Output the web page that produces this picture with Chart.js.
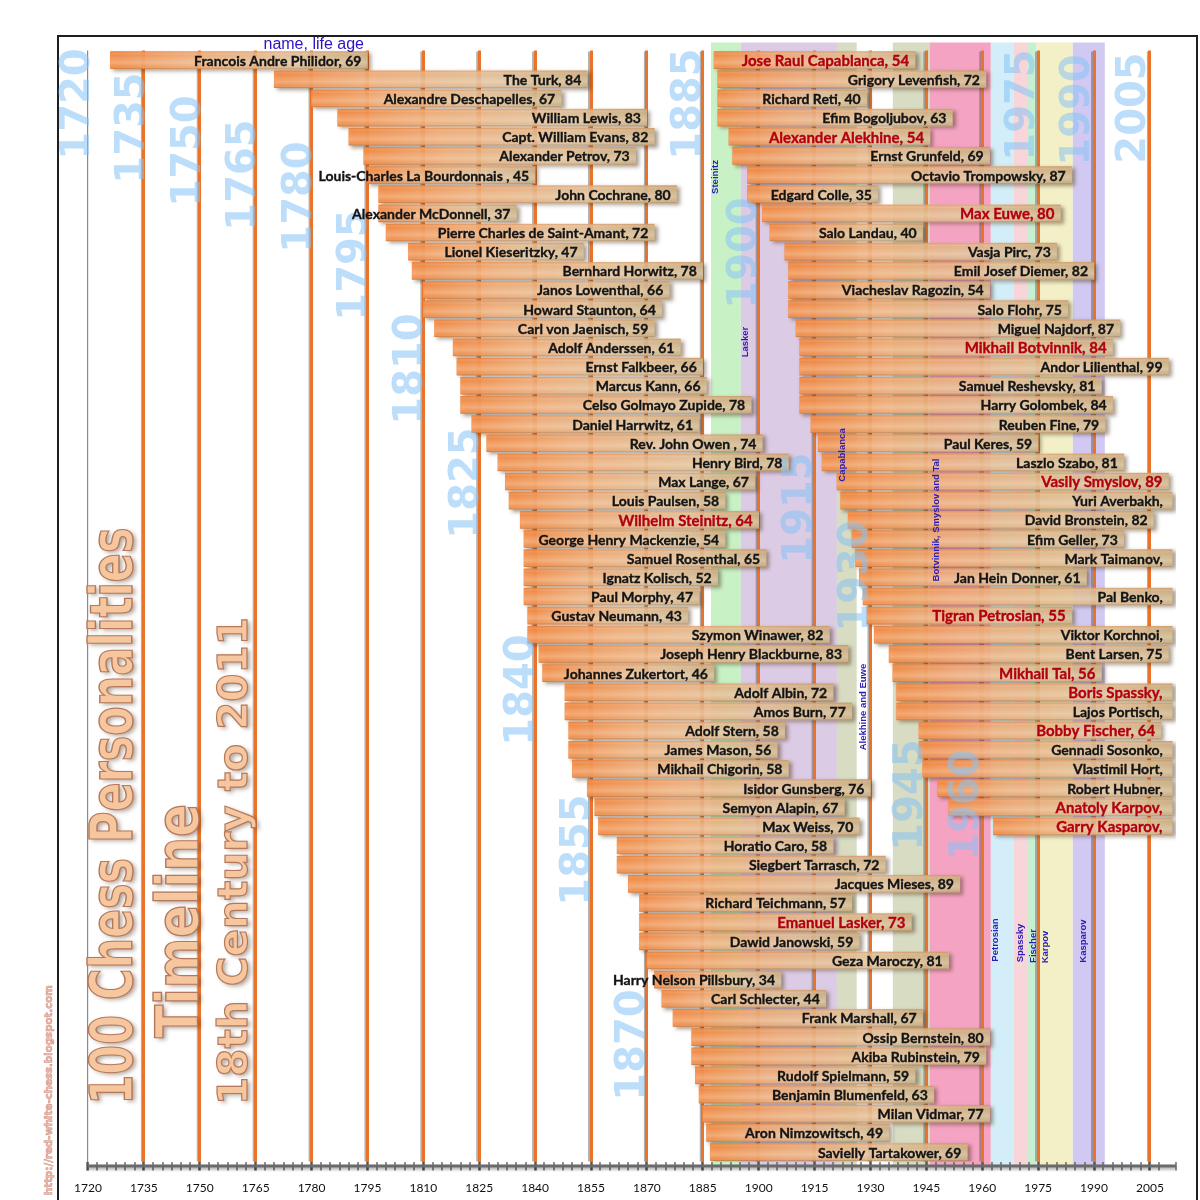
<!DOCTYPE html>
<html>
<head>
<meta charset="utf-8">
<title>100 Chess Personalities Timeline</title>
<script src="https://cdn.jsdelivr.net/npm/chart.js@4.4.1/dist/chart.umd.min.js"></script>
<style>
  html, body { margin: 0; padding: 0; background: #fff; }
  canvas { display: block; }
</style>
</head>
<body>
<canvas id="timeline" width="1200" height="1200"></canvas>
<script>
'use strict';

// ---- people, top to bottom (left staircase) ----
const leftNames = ['Francois Andre Philidor', 'The Turk', 'Alexandre Deschapelles', 'William Lewis',
    'Capt. William Evans', 'Alexander Petrov', 'Louis-Charles La Bourdonnais ', 'John Cochrane',
    'Alexander McDonnell', 'Pierre Charles de Saint-Amant', 'Lionel Kieseritzky', 'Bernhard Horwitz',
    'Janos Lowenthal', 'Howard Staunton', 'Carl von Jaenisch', 'Adolf Anderssen', 'Ernst Falkbeer',
    'Marcus Kann', 'Celso Golmayo Zupide', 'Daniel Harrwitz', 'Rev. John Owen ', 'Henry Bird',
    'Max Lange', 'Louis Paulsen', 'Wilhelm Steinitz', 'George Henry Mackenzie', 'Samuel Rosenthal',
    'Ignatz Kolisch', 'Paul Morphy', 'Gustav Neumann', 'Szymon Winawer', 'Joseph Henry Blackburne',
    'Johannes Zukertort', 'Adolf Albin', 'Amos Burn', 'Adolf Stern', 'James Mason', 'Mikhail Chigorin',
    'Isidor Gunsberg', 'Semyon Alapin', 'Max Weiss', 'Horatio Caro', 'Siegbert Tarrasch',
    'Jacques Mieses', 'Richard Teichmann', 'Emanuel Lasker', 'Dawid Janowski', 'Geza Maroczy',
    'Harry Nelson Pillsbury', 'Carl Schlecter', 'Frank Marshall', 'Ossip Bernstein',
    'Akiba Rubinstein', 'Rudolf Spielmann', 'Benjamin Blumenfeld', 'Milan Vidmar',
    'Aron Nimzowitsch', 'Savielly Tartakower'];
const leftAges = [69, 84, 67, 83, 82, 73, 45, 80, 37, 72, 47, 78, 66, 64, 59, 61, 66, 66, 78, 61,
    74, 78, 67, 58, 64, 54, 65, 52, 47, 43, 82, 83, 46, 72, 77, 58, 56, 58, 76, 67,
    70, 58, 72, 89, 57, 73, 59, 81, 34, 44, 67, 80, 79, 59, 63, 77, 49, 69];
const leftBorn = [1726, 1770, 1780, 1787, 1790, 1794, 1795, 1798, 1798, 1800, 1806, 1807, 1810, 1810,
    1813, 1818, 1819, 1820, 1820, 1823, 1827, 1830, 1832, 1833, 1836, 1837, 1837, 1837, 1837, 1838,
    1838, 1841, 1842, 1848, 1848, 1849, 1849, 1850, 1854, 1856, 1857, 1862, 1862, 1865, 1868, 1868,
    1868, 1870, 1872, 1874, 1877, 1882, 1882, 1883, 1884, 1885, 1886, 1887];
const leftDied = [1795, 1854, 1847, 1870, 1872, 1867, 1840, 1878, 1835, 1872, 1853, 1885, 1876, 1874,
    1872, 1879, 1885, 1886, 1898, 1884, 1901, 1908, 1899, 1891, 1900, 1891, 1902, 1889, 1884, 1881,
    1919, 1924, 1888, 1920, 1925, 1907, 1905, 1908, 1930, 1923, 1927, 1920, 1934, 1954, 1925, 1941,
    1927, 1951, 1906, 1918, 1944, 1962, 1961, 1942, 1947, 1962, 1935, 1956];

// ---- people, top to bottom (right staircase); still alive in 2011 -> no age ----
const rightNames = ['Jose Raul Capablanca', 'Grigory Levenfish', 'Richard Reti', 'Efim Bogoljubov',
    'Alexander Alekhine', 'Ernst Grunfeld', 'Octavio Trompowsky', 'Edgard Colle', 'Max Euwe',
    'Salo Landau', 'Vasja Pirc', 'Emil Josef Diemer', 'Viacheslav Ragozin', 'Salo Flohr',
    'Miguel Najdorf', 'Mikhail Botvinnik', 'Andor Lilienthal', 'Samuel Reshevsky', 'Harry Golombek',
    'Reuben Fine', 'Paul Keres', 'Laszlo Szabo', 'Vasily Smyslov', 'Yuri Averbakh', 'David Bronstein',
    'Efim Geller', 'Mark Taimanov', 'Jan Hein Donner', 'Pal Benko', 'Tigran Petrosian',
    'Viktor Korchnoi', 'Bent Larsen', 'Mikhail Tal', 'Boris Spassky', 'Lajos Portisch',
    'Bobby Fischer', 'Gennadi Sosonko', 'Vlastimil Hort', 'Robert Hubner', 'Anatoly Karpov',
    'Garry Kasparov'];
const rightAges = [54, 72, 40, 63, 54, 69, 87, 35, 80, 40, 73, 82, 54, 75, 87, 84, 99, 81, 84, 79,
    59, 81, 89, null, 82, 73, null, 61, null, 55, null, 75, 56, null, null, 64, null, null, null,
    null, null];
const rightBorn = [1888, 1889, 1889, 1889, 1892, 1893, 1897, 1897, 1901, 1903, 1907, 1908, 1908, 1908,
    1910, 1911, 1911, 1911, 1911, 1914, 1916, 1917, 1921, 1922, 1924, 1925, 1926, 1927, 1928, 1929,
    1931, 1935, 1936, 1937, 1937, 1943, 1943, 1944, 1948, 1951, 1963];
const rightDied = [1942, 1961, 1929, 1952, 1946, 1962, 1984, 1932, 1981, 1944, 1980, 1990, 1962, 1983,
    1997, 1995, 2010, 1992, 1995, 1993, 1975, 1998, 2010, 2011, 2006, 1998, 2011, 1988, 2011, 1984,
    2011, 2010, 1992, 2011, 2011, 2008, 2011, 2011, 2011, 2011, 2011];

const champions = ['Wilhelm Steinitz', 'Emanuel Lasker', 'Jose Raul Capablanca', 'Alexander Alekhine',
    'Max Euwe', 'Mikhail Botvinnik', 'Vasily Smyslov', 'Tigran Petrosian', 'Mikhail Tal',
    'Boris Spassky', 'Bobby Fischer', 'Anatoly Karpov', 'Garry Kasparov'];

// ---- world champion eras (background bands) ----
const eraNames = ['Steinitz', 'Lasker', 'Capablanca', 'Alekhine and Euwe', 'Botvinnik, Smyslov and Tal',
    'Petrosian', 'Spassky', 'Fischer', 'Karpov', 'Kasparov'];
const eraFrom = [1887.2, 1895.2, 1921, 1936, 1945.9, 1962.3, 1968.5, 1972, 1974.6, 1984.3];
const eraTo = [1895.2, 1921, 1926.3, 1945.9, 1962.3, 1968.5, 1972, 1974.6, 1984.3, 1992.9];

// big faded year labels along the staircase
const bigYears = [1720, 1735, 1750, 1765, 1780, 1795, 1810, 1825, 1840, 1855, 1870,
    1885, 1900, 1915, 1930, 1945, 1960, 1975, 1990, 2005];

// ---- layout / style (not data) ----
const eraColors = ['#c9f1c6', '#dccbe4', '#d7dcc3', '#d7dcc3', '#f5a3c3', '#d3eef8',
    '#f8d5d9', '#c9efd2', '#f3f0c8', '#d1c9f1'];
const eraLabelPos = [[715, 177], [745, 342], [842, 455], [863, 707], [936, 520],
    [995, 940], [1020, 943], [1033, 946], [1045, 947], [1083, 941]];
const bigYearY = [104, 128, 151, 175, 197, 265, 369, 483, 690, 850, 1045,
    104, 253, 508, 576, 795, 805, 105, 110, 108];

const rowLabels = leftNames.map((n, i) => String(i + 1));
const leftRanges = leftBorn.map((b, i) => [b, leftDied[i]]);
const rightRanges = rightBorn.map((b, i) => [b, rightDied[i]]);

function labelFor(name, age) {
    return name + ', ' + (age == null ? '' : age);
}

function barFill(context) {
    const chart = context.chart;
    const raw = context.raw;
    if (!chart.chartArea || !raw) return 'rgba(245,170,110,0.85)';
    const xs = chart.scales.x;
    const x0 = xs.getPixelForValue(raw[0]);
    const x1 = xs.getPixelForValue(raw[1]);
    const g = chart.ctx.createLinearGradient(x0, 0, x1, 0);
    g.addColorStop(0, 'rgba(243,136,64,0.95)');
    g.addColorStop(0.3, 'rgba(246,172,114,0.86)');
    g.addColorStop(0.7, 'rgba(232,196,152,0.82)');
    g.addColorStop(1, 'rgba(204,176,132,0.94)');
    return g;
}

function isMajor(v) {
    const k = (v - 1720) / 15;
    return Math.abs(k - Math.round(k)) < 1e-6;
}

// draws a rotated (bottom-to-top) string centred on cy with its baseline at baseX, stretched to a length
function rotatedText(ctx, text, cy, baseX, length, font, fill, stroke, strokeW, shadow) {
    ctx.save();
    ctx.font = font;
    const w = ctx.measureText(text).width;
    ctx.translate(baseX, cy);
    ctx.rotate(-Math.PI / 2);
    ctx.scale(length / w, 1);
    ctx.textAlign = 'center';
    ctx.textBaseline = 'alphabetic';
    if (shadow) {
        ctx.shadowColor = 'rgba(90,60,40,0.45)';
        ctx.shadowBlur = 4;
        ctx.shadowOffsetX = 3;
        ctx.shadowOffsetY = 2;
    }
    ctx.fillStyle = fill;
    ctx.fillText(text, 0, 0);
    ctx.shadowColor = 'transparent';
    if (stroke) {
        ctx.lineWidth = strokeW;
        ctx.strokeStyle = stroke;
        ctx.strokeText(text, 0, 0);
    }
    ctx.restore();
}

const timelineDecor = {
    id: 'timelineDecor',
    beforeDraw(chart) {
        const {ctx, chartArea: a, scales: {x}} = chart;
        ctx.save();
        ctx.fillStyle = '#fff';
        ctx.fillRect(0, 0, chart.width, chart.height);
        eraNames.forEach((n, i) => {
            const x0 = x.getPixelForValue(eraFrom[i]);
            const x1 = x.getPixelForValue(eraTo[i]);
            ctx.fillStyle = eraColors[i];
            ctx.fillRect(x0, a.top - 8, x1 - x0, a.bottom - a.top + 12);
        });
        // grey shadow next to every 15-year line
        ctx.strokeStyle = 'rgba(80,80,80,0.45)';
        ctx.lineWidth = 2;
        for (let y = 1735; y <= 2005; y += 15) {
            const px = x.getPixelForValue(y) - 2;
            ctx.beginPath();
            ctx.moveTo(px, a.top + 1);
            ctx.lineTo(px, a.bottom);
            ctx.stroke();
        }
        // frame
        ctx.strokeStyle = '#1e1e1e';
        ctx.lineWidth = 2;
        ctx.beginPath();
        ctx.moveTo(58, 1200);
        ctx.lineTo(58, 36);
        ctx.lineTo(1197, 36);
        ctx.lineTo(1197, 1200);
        ctx.stroke();
        ctx.restore();
    },
    beforeDatasetsDraw(chart) {
        const {ctx, chartArea: a, scales: {x}} = chart;
        // axis bar crossing the tick marks
        ctx.save();
        ctx.shadowColor = 'rgba(0,0,0,0.35)';
        ctx.shadowBlur = 3;
        ctx.shadowOffsetY = 2;
        ctx.strokeStyle = '#6a6a6a';
        ctx.lineWidth = 3;
        ctx.beginPath();
        ctx.moveTo(x.left, a.bottom + 4.5);
        ctx.lineTo(x.right, a.bottom + 4.5);
        ctx.stroke();
        ctx.restore();
        // shadow for the bars
        ctx.save();
        ctx.shadowColor = 'rgba(70,45,20,0.5)';
        ctx.shadowBlur = 4;
        ctx.shadowOffsetX = 3;
        ctx.shadowOffsetY = 2;
    },
    afterDatasetsDraw(chart) {
        const ctx = chart.ctx;
        ctx.restore();
        const x = chart.scales.x;
        const metas = [chart.getDatasetMeta(0), chart.getDatasetMeta(1)];

        // gloss on each bar
        ctx.save();
        metas.forEach(meta => {
            meta.data.forEach(el => {
                const p = el.getProps(['x', 'y', 'base', 'height'], true);
                if (!isFinite(p.x) || !isFinite(p.base)) return;
                const l = Math.min(p.x, p.base), w = Math.abs(p.x - p.base), t = p.y - p.height / 2;
                const g = ctx.createLinearGradient(0, t, 0, t + p.height);
                g.addColorStop(0, 'rgba(205,100,35,0.4)');
                g.addColorStop(0.2, 'rgba(255,255,255,0)');
                g.addColorStop(0.65, 'rgba(255,248,232,0.28)');
                g.addColorStop(0.88, 'rgba(255,255,255,0.05)');
                g.addColorStop(1, 'rgba(130,90,50,0.45)');
                ctx.fillStyle = g;
                ctx.fillRect(l, t, w, p.height);
            });
        });
        ctx.restore();

        // faded big years
        ctx.save();
        ctx.font = 'bold 40px "DejaVu Sans"';
        ctx.fillStyle = 'rgba(135,195,245,0.55)';
        ctx.textAlign = 'center';
        ctx.textBaseline = 'alphabetic';
        bigYears.forEach((yr, i) => {
            const cx = x.getPixelForValue(yr) - 14 - (yr - 1720) / 50;
            ctx.save();
            ctx.translate(cx + 14.5, bigYearY[i]);
            ctx.rotate(-Math.PI / 2);
            ctx.fillText(String(yr), 0, 0);
            ctx.restore();
        });
        ctx.restore();

        // era names
        ctx.save();
        ctx.font = 'bold 9.5px "Liberation Sans"';
        ctx.fillStyle = '#2c1cb4';
        ctx.textAlign = 'center';
        ctx.textBaseline = 'middle';
        eraNames.forEach((n, i) => {
            ctx.save();
            ctx.translate(eraLabelPos[i][0], eraLabelPos[i][1]);
            ctx.rotate(-Math.PI / 2);
            ctx.fillText(n, 0, 0);
            ctx.restore();
        });
        ctx.restore();

        // names and ages at the end of each bar
        const groups = [[leftNames, leftAges], [rightNames, rightAges]];
        ctx.save();
        ctx.textAlign = 'right';
        ctx.textBaseline = 'middle';
        metas.forEach((meta, di) => {
            const [names, ages] = groups[di];
            meta.data.forEach((el, i) => {
                const p = el.getProps(['x', 'y'], true);
                const champ = champions.includes(names[i]);
                const txt = labelFor(names[i], ages[i]);
                ctx.font = champ ? 'bold 15px Lato' : 'bold 14px Lato';
                ctx.fillStyle = champ ? '#b3000f' : '#141414';
                ctx.strokeStyle = ctx.fillStyle;
                ctx.lineWidth = 0.35;
                ctx.fillText(txt, p.x - 6, p.y + 1);
                ctx.strokeText(txt, p.x - 6, p.y + 1);
            });
        });
        ctx.restore();

        // header note
        ctx.save();
        ctx.font = '16px "Liberation Sans"';
        ctx.fillStyle = '#2b12c4';
        ctx.textAlign = 'right';
        ctx.textBaseline = 'alphabetic';
        ctx.fillText('name, life age', 364, 49);
        ctx.restore();

        // title block
        const fill = '#f6c79f', edge = '#b5785a';
        rotatedText(ctx, '100 Chess Personalities', 816, 132, 577, 'bold 58px "DejaVu Sans"', fill, edge, 1.4, true);
        rotatedText(ctx, 'Timeline', 921, 198, 234, 'bold 59px "DejaVu Sans"', fill, edge, 1.4, true);
        rotatedText(ctx, '18th Century to 2011', 861, 247, 488, 'bold 41px "DejaVu Sans"', fill, edge, 1.2, true);
        rotatedText(ctx, 'http://red-white-chess.blogspot.com', 1090, 52, 210, 'bold 11px "DejaVu Sans"', '#f3bcad', '#c98a7c', 0.5, false);
    }
};

new Chart(document.getElementById('timeline'), {
    type: 'bar',
    data: {
        labels: rowLabels,
        datasets: [{
            label: 'Before 1888',
            data: leftRanges,
            backgroundColor: barFill,
            borderWidth: 0,
            borderSkipped: false,
            grouped: false,
            barThickness: 17
        }, {
            label: 'From 1888',
            data: rightRanges,
            backgroundColor: barFill,
            borderWidth: 0,
            borderSkipped: false,
            grouped: false,
            barThickness: 17
        }]
    },
    options: {
        indexAxis: 'y',
        responsive: false,
        devicePixelRatio: 1,
        animation: false,
        layout: { padding: { left: 88, right: 24, top: 50.5, bottom: 4.4 } },
        plugins: {
            legend: { display: false },
            tooltip: { enabled: false },
            title: { display: false }
        },
        scales: {
            y: {
                type: 'category',
                display: false,
                offset: true,
                grid: { display: false }
            },
            x: {
                type: 'linear',
                position: 'bottom',
                min: 1720,
                max: 2012,
                afterFit: scale => { scale.height = 34; },
                border: { display: false },
                grid: {
                    color: c => !isMajor(c.tick.value) ? 'rgba(0,0,0,0)' : (c.tick.value === 1720 ? '#8a8a8a' : '#e9732a'),
                    lineWidth: c => !isMajor(c.tick.value) ? 0 : (c.tick.value === 1720 ? 1.2 : 3),
                    tickLength: 9,
                    tickColor: '#555',
                    tickWidth: c => isMajor(c.tick.value) ? 2.5 : 1.3
                },
                ticks: {
                    stepSize: 2.5,
                    autoSkip: false,
                    maxRotation: 0,
                    padding: 10,
                    color: '#111',
                    font: { family: 'Lato', size: 12 },
                    callback: v => isMajor(v) ? String(v) : ''
                }
            }
        }
    },
    plugins: [timelineDecor]
});
</script>
</body>
</html>
